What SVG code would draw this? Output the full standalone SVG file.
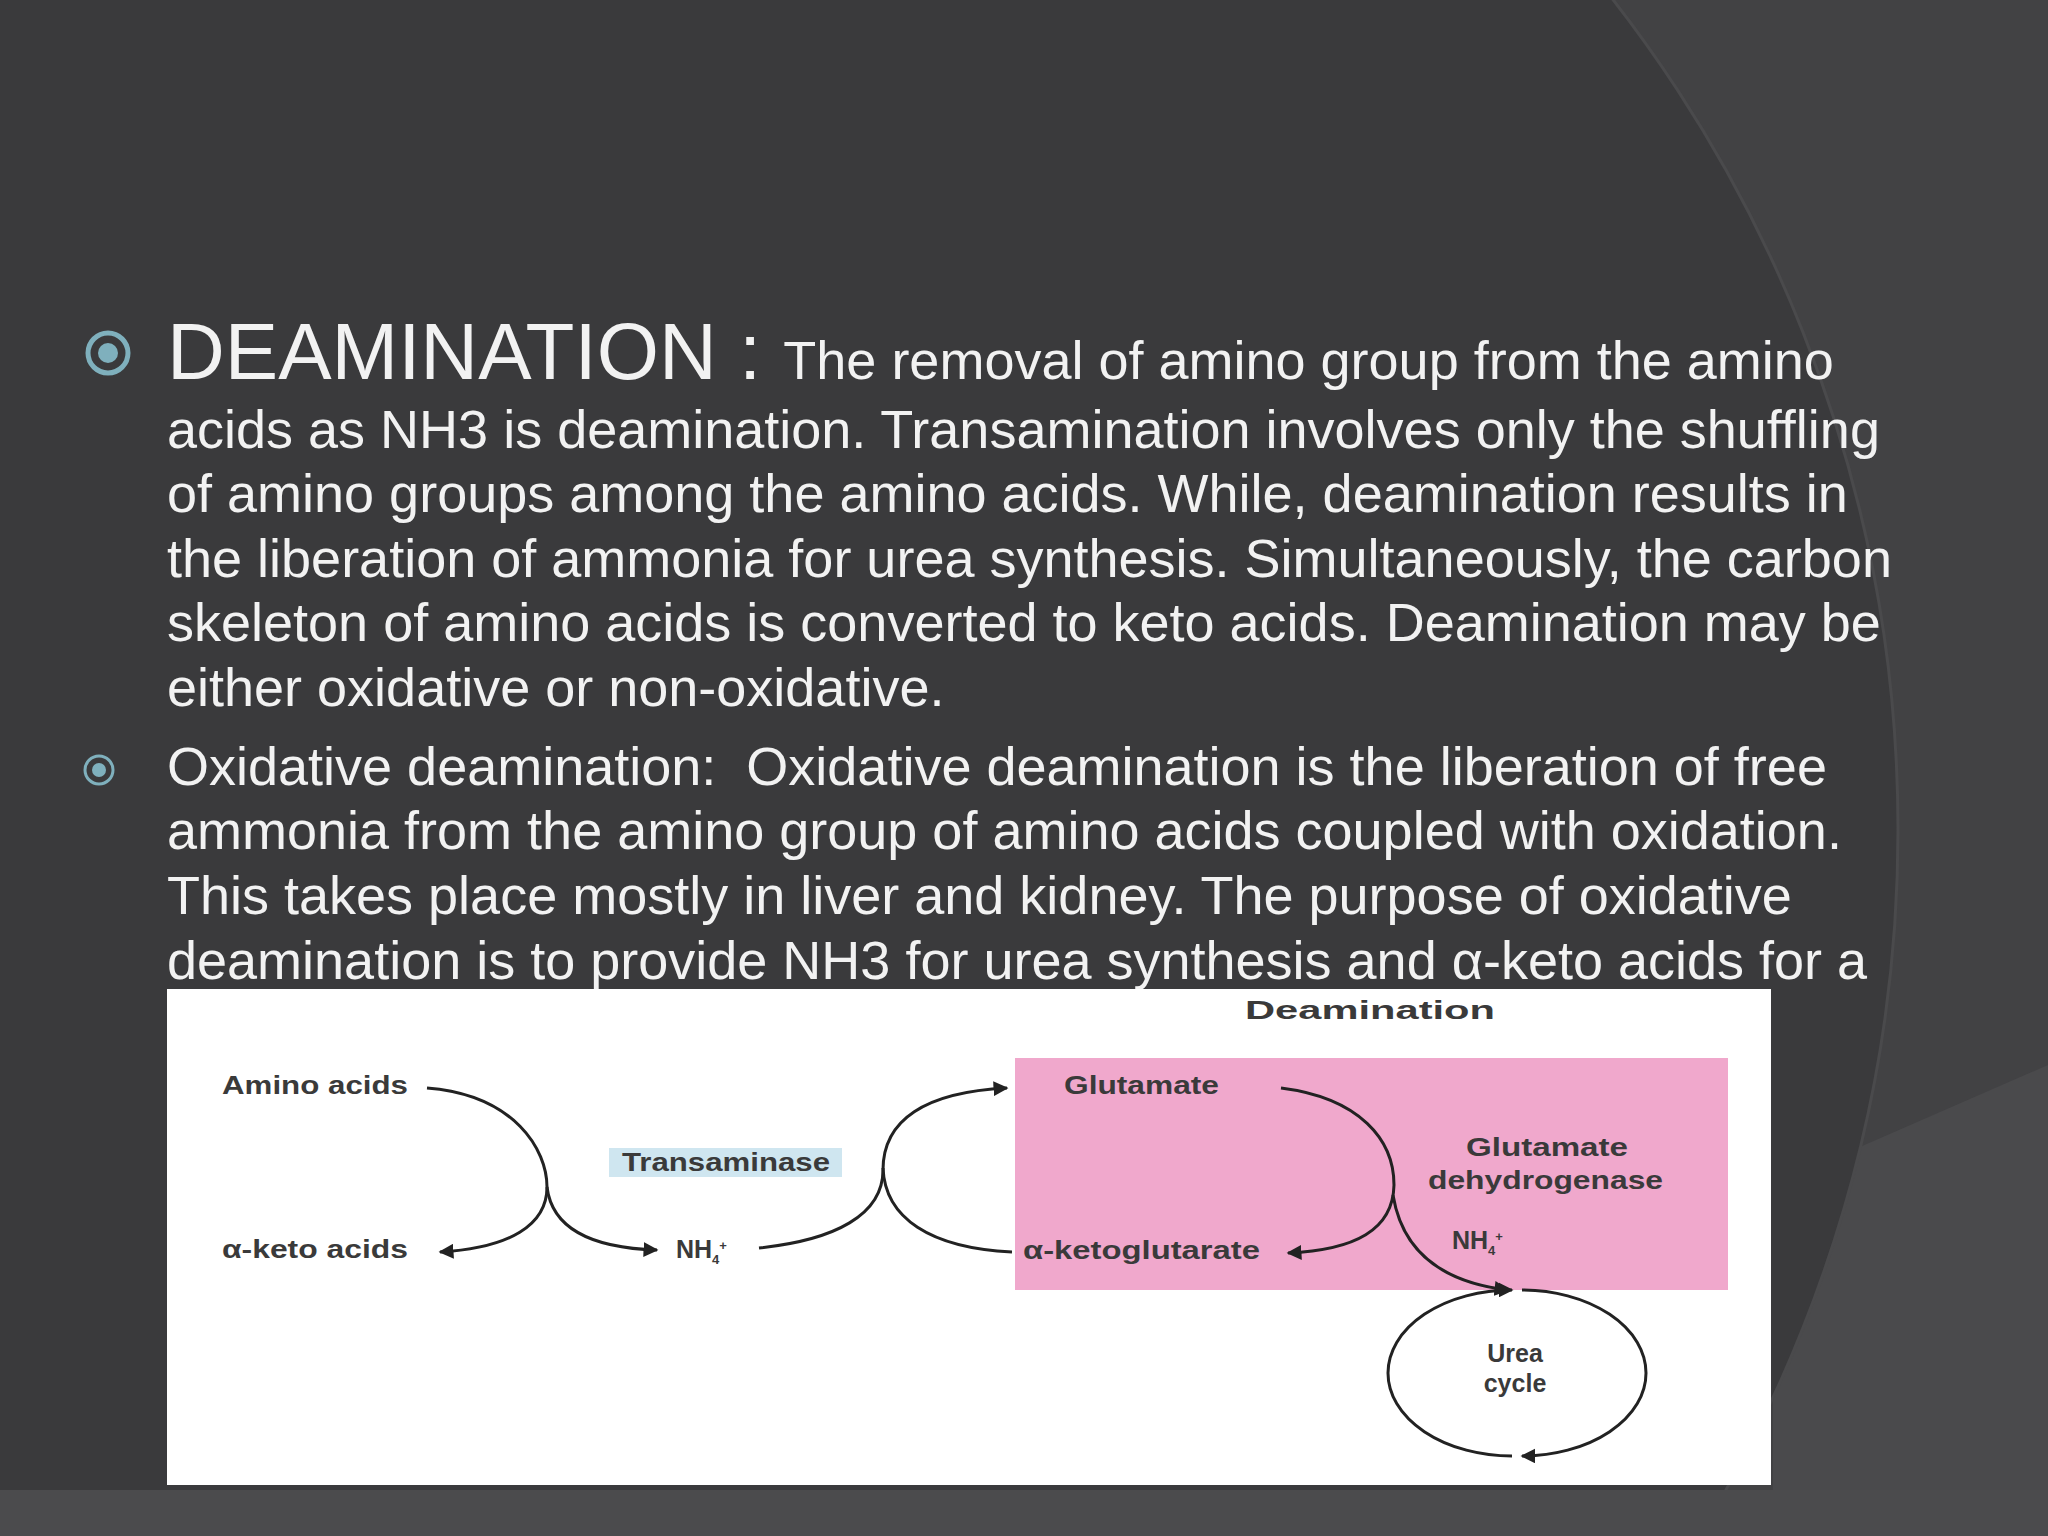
<svg xmlns="http://www.w3.org/2000/svg" width="2048" height="1536" viewBox="0 0 2048 1536">
<defs>
<style>
.t{font-family:"Liberation Sans",Arial,sans-serif;fill:#f2f2f2}
.d{font-family:"Liberation Sans",Arial,sans-serif;fill:#3a3a3a;font-size:25px;font-weight:bold}
.c{fill:none;stroke:#222;stroke-width:3}
</style>
<marker id="ah" viewBox="0 0 10 10" refX="9" refY="5" markerWidth="5" markerHeight="5" orient="auto"><path d="M0,0 L10,5 L0,10 z" fill="#222"/></marker>
</defs>
<rect width="2048" height="1536" fill="#424244"/>
<polygon points="1773,1185 2048,1065 2048,1536 1773,1536" fill="#4a4a4c"/>
<circle cx="546" cy="830" r="1352" fill="#3a3a3c" stroke="#4a4a4c" stroke-width="3"/>
<rect x="0" y="1490" width="2048" height="46" fill="#4b4b4d"/>
<g id="text">
<circle cx="108" cy="353" r="20" fill="none" stroke="#7fb0bd" stroke-width="5"/>
<circle cx="108" cy="353" r="10" fill="#7fb0bd"/>
<circle cx="99" cy="770" r="14" fill="none" stroke="#7fb0bd" stroke-width="3"/>
<circle cx="99" cy="770" r="7" fill="#7fb0bd"/>
<text class="t" x="167" y="379" font-size="54"><tspan font-size="80">DEAMINATION : </tspan>The removal of amino group from the amino</text>
<text class="t" x="167" y="448" font-size="54">acids as NH3 is deamination. Transamination involves only the shuffling</text>
<text class="t" x="167" y="512" font-size="54">of amino groups among the amino acids. While, deamination results in</text>
<text class="t" x="167" y="577" font-size="54">the liberation of ammonia for urea synthesis. Simultaneously, the carbon</text>
<text class="t" x="167" y="641" font-size="54">skeleton of amino acids is converted to keto acids. Deamination may be</text>
<text class="t" x="167" y="706" font-size="54">either oxidative or non-oxidative.</text>
<text class="t" x="167" y="785" font-size="54">Oxidative deamination:&#160; Oxidative deamination is the liberation of free</text>
<text class="t" x="167" y="849" font-size="54">ammonia from the amino group of amino acids coupled with oxidation.</text>
<text class="t" x="167" y="914" font-size="54">This takes place mostly in liver and kidney. The purpose of oxidative</text>
<text class="t" x="167" y="979" font-size="54">deamination is to provide NH3 for urea synthesis and α-keto acids for a</text>
</g>
<g id="figure">
<rect x="167" y="989" width="1604" height="496" fill="#ffffff"/>
<rect x="1015" y="1058" width="713" height="232" fill="#f0a8cc"/>
<text class="d" x="1245" y="1019" font-size="30" textLength="250" lengthAdjust="spacingAndGlyphs">Deamination</text>
<g id="n-amino"><text class="d" x="222" y="1094" textLength="186" lengthAdjust="spacingAndGlyphs">Amino acids</text></g>
<g id="n-keto"><text class="d" x="222" y="1258" textLength="186" lengthAdjust="spacingAndGlyphs">α-keto acids</text></g>
<g id="n-trans"><rect x="609" y="1148" width="233" height="29" fill="#cfe6f0"/><text class="d" x="622" y="1171" textLength="208" lengthAdjust="spacingAndGlyphs">Transaminase</text></g>
<g id="n-nh4a"><text class="d" x="676" y="1258">NH<tspan font-size="13" dy="6">4</tspan><tspan font-size="13" dy="-14">+</tspan></text></g>
<g id="n-glu"><text class="d" x="1064" y="1094" textLength="155" lengthAdjust="spacingAndGlyphs">Glutamate</text></g>
<g id="n-akg"><text class="d" x="1023" y="1259" textLength="237" lengthAdjust="spacingAndGlyphs">α-ketoglutarate</text></g>
<g id="n-gdh"><text class="d" x="1466" y="1156" textLength="162" lengthAdjust="spacingAndGlyphs">Glutamate</text><text class="d" x="1428" y="1189" textLength="235" lengthAdjust="spacingAndGlyphs">dehydrogenase</text></g>
<g id="n-nh4b"><text class="d" x="1452" y="1249">NH<tspan font-size="13" dy="6">4</tspan><tspan font-size="13" dy="-14">+</tspan></text></g>
<g id="n-urea"><text class="d" x="1515" y="1362" text-anchor="middle">Urea</text><text class="d" x="1515" y="1392" text-anchor="middle">cycle</text></g>
<g id="connectors">
<path class="c" d="M427,1088 C515,1095 547,1150 547,1187 C547,1225 510,1248 440,1252" marker-end="url(#ah)"/>
<path class="c" d="M547,1187 C552,1228 590,1248 657,1250" marker-end="url(#ah)"/>
<path class="c" d="M759,1248 C835,1240 883,1215 883,1170 C883,1120 925,1092 1007,1088" marker-end="url(#ah)"/>
<path class="c" d="M883,1168 C885,1218 930,1248 1012,1252"/>
<path class="c" d="M1281,1088 C1360,1098 1394,1140 1394,1185 C1393,1230 1355,1250 1288,1253" marker-end="url(#ah)"/>
<path class="c" d="M1393,1195 C1402,1250 1440,1282 1508,1290" marker-end="url(#ah)"/>
<path class="c" d="M1522,1290 A124,83 0 0 1 1522,1456" marker-end="url(#ah)"/>
<path class="c" d="M1512,1456 A124,83 0 0 1 1512,1290" marker-end="url(#ah)"/>
</g>
</g>
</svg>
